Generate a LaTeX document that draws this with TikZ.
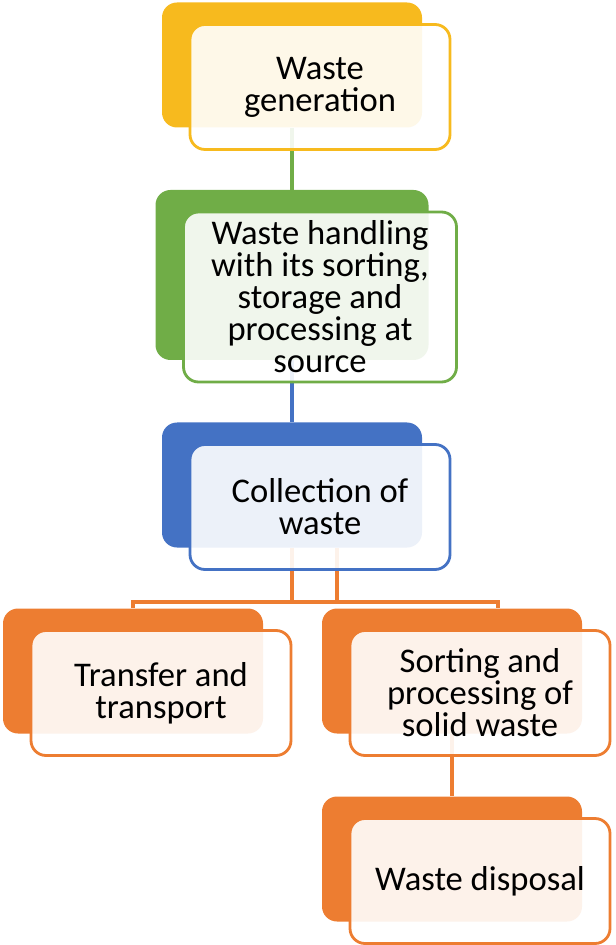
\documentclass[tikz,border=0pt]{standalone}
\usepackage{fontspec}
\setmainfont{Carlito}
\usetikzlibrary{positioning}

\definecolor{gold}{RGB}{247,186,30}
\definecolor{leaf}{RGB}{112,173,71}
\definecolor{sea}{RGB}{68,114,196}
\definecolor{rust}{RGB}{237,125,49}

\begin{document}
\begin{tikzpicture}[x=0.5pt,y=-0.5pt,
    back/.style={fill=#1, rounded corners=7.5pt, minimum width=130pt,
        minimum height=62.5pt, inner sep=0pt},
    front/.style={draw=#1, line width=1.4pt, fill=white, fill opacity=0.9,
        text opacity=1, rounded corners=7.5pt, minimum width=130pt,
        minimum height=62.5pt, inner sep=2pt, align=center,
        font=\fontsize{17.3}{16}\selectfont},
    link/.style={draw=#1, line width=1.8pt}]
    \useasboundingbox (0,0) rectangle (615,945);

    % coloured cards behind
    \node[back=gold] (b1) at (292,65) {};
    \node[back=leaf, minimum width=136.5pt, minimum height=85pt] (b2) at (292,275) {};
    \node[back=sea] (b3) at (292,485) {};
    \node[back=rust] (b4) at (133,671) {};
    \node[back=rust] (b5) at (452,671) {};
    \node[back=rust] (b6) at (452,859) {};

    % connectors, under the front cards
    \coordinate (bar) at (0,602);
    \draw[link=leaf] (b1.south) -- (b2.north);
    \draw[link=sea] (b2.south) -- (b3.north);
    \draw[link=rust] (b3.south) -- (b3.south |- bar);
    \draw[link=rust] ([xshift=22.5pt]b3.south) -- ([xshift=22.5pt]b3.south |- bar);
    \draw[link=rust] (b4.north) -- (b4.north |- bar)
        -- ([xshift=23pt]b5.north |- bar) -- ([xshift=23pt]b5.north);
    \draw[link=rust] (b5.south) -- (b6.north);

    % front cards with the text
    \node[front=gold] (f1) at ([xshift=14pt,yshift=-11pt]b1.center) {Waste\\generation};
    \node[front=leaf, minimum width=136.5pt, minimum height=85pt] (f2)
        at ([xshift=14pt,yshift=-11pt]b2.center)
        {Waste handling\\with its sorting,\\storage and\\processing at\\source};
    \node[front=sea] (f3) at ([xshift=14pt,yshift=-11pt]b3.center) {Collection of\\waste};
    \node[front=rust] (f4) at ([xshift=14pt,yshift=-11pt]b4.center) {Transfer and\\transport};
    \node[front=rust] (f5) at ([xshift=14pt,yshift=-11pt]b5.center)
        {Sorting and\\processing of\\solid waste};
    \node[front=rust] (f6) at ([xshift=14pt,yshift=-11pt]b6.center) {Waste disposal};
\end{tikzpicture}
\end{document}
